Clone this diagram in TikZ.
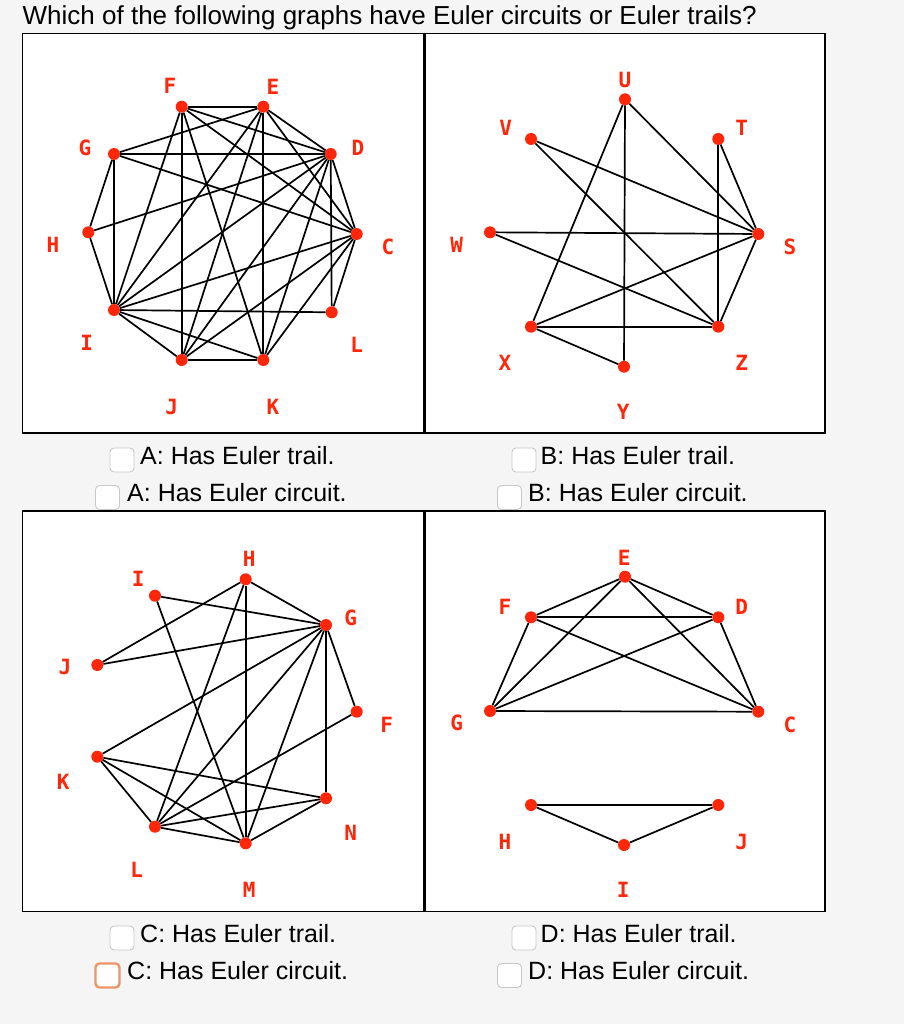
\documentclass[tikz,border=0pt]{standalone}
\usepackage{fontspec}
\setmainfont{Liberation Sans}
\newfontfamily\lblfont{DejaVu Sans Mono}
\definecolor{ptred}{RGB}{255,38,10}
\definecolor{pagebg}{RGB}{245,245,245}
\definecolor{boxgray}{RGB}{200,200,200}
\definecolor{focusorange}{RGB}{236,150,104}
\tikzset{
  vtx/.style={circle, fill=ptred, inner sep=0pt, minimum size=12pt},
  lbl/.style={text=ptred, font=\lblfont\bfseries\fontsize{21}{21}\selectfont, inner sep=0pt},
  gedge/.style={line width=1.7pt, black},
  panel/.style={draw=black, line width=1.8pt, fill=white},
  cbox/.style={draw=boxgray, fill=white, rounded corners=4pt, line width=0.9pt, minimum width=24pt, minimum height=24pt, inner sep=0pt},
  cboxfocus/.style={cbox, draw=focusorange, line width=2.4pt},
  opt/.style={anchor=base west, inner sep=0pt, font=\fontsize{25}{25}\selectfont},
}
\begin{document}
\begin{tikzpicture}[x=1pt, y=-1pt]
\useasboundingbox (0,0) rectangle (904,1024);
\fill[pagebg] (0,0) rectangle (904,1024);

\node[anchor=base west, inner sep=0pt, font=\fontsize{26}{26}\selectfont] (title) at (22.5,25) {Which of the following graphs have Euler circuits or Euler trails?};

% panels
\draw[panel] (22.5,33.5) rectangle (424,433);
\draw[panel] (425.5,33.5) rectangle (825,433);
\draw[panel] (22.5,511) rectangle (424,911.5);
\draw[panel] (425.5,511) rectangle (825,911.5);

% ---------- Panel A ----------
\node[vtx] (aF) at (181.7,106.7) {};
\node[vtx] (aE) at (263.3,106.7) {};
\node[vtx] (aG) at (114,154) {};
\node[vtx] (aD) at (330.7,154) {};
\node[vtx] (aH) at (88.3,232.3) {};
\node[vtx] (aC) at (356.7,234) {};
\node[vtx] (aI) at (114,310) {};
\node[vtx] (aL) at (331.7,312.3) {};
\node[vtx] (aJ) at (181.7,360) {};
\node[vtx] (aK) at (263.3,360) {};
\node[lbl] (aFl) at (170,86) {F};
\node[lbl] (aEl) at (273,86.7) {E};
\node[lbl] (aGl) at (85,148) {G};
\node[lbl] (aDl) at (358,148) {D};
\node[lbl] (aHl) at (53,245) {H};
\node[lbl] (aCl) at (388,247) {C};
\node[lbl] (aIl) at (86.7,343) {I};
\node[lbl] (aLl) at (356.7,345) {L};
\node[lbl] (aJl) at (171.7,406.7) {J};
\node[lbl] (aKl) at (273,406.7) {K};
\foreach \u/\v in {aF/aE,aJ/aK,aG/aD,aI/aL,aF/aJ,aE/aK,aG/aI,aD/aL,aG/aH,aH/aI,aD/aC,aC/aL,aG/aE,aG/aC,aH/aD,aF/aD,aF/aC,aF/aK,aF/aI,aE/aI,aE/aJ,aE/aC,aE/aD,aD/aI,aD/aJ,aD/aK,aC/aI,aC/aJ,aC/aK,aI/aJ,aI/aK}
  \draw[gedge] (\u) -- (\v);

% ---------- Panel B ----------
\node[vtx] (bU) at (625,99.3) {};
\node[vtx] (bV) at (531,139) {};
\node[vtx] (bT) at (718.3,139) {};
\node[vtx] (bW) at (490,232.3) {};
\node[vtx] (bS) at (758.3,234) {};
\node[vtx] (bX) at (531,326.7) {};
\node[vtx] (bZ) at (718.3,326.7) {};
\node[vtx] (bY) at (624,366.7) {};
\node[lbl] (bUl) at (625,80) {U};
\node[lbl] (bVl) at (505.7,128) {V};
\node[lbl] (bTl) at (741.7,128) {T};
\node[lbl] (bWl) at (456.7,245) {W};
\node[lbl] (bSl) at (790,246.7) {S};
\node[lbl] (bXl) at (505,363) {X};
\node[lbl] (bZl) at (741.7,363) {Z};
\node[lbl] (bYl) at (623.3,411.7) {Y};
\foreach \u/\v in {bU/bY,bU/bX,bU/bS,bV/bS,bV/bZ,bT/bS,bT/bZ,bW/bS,bW/bZ,bX/bS,bX/bZ,bX/bY,bZ/bS}
  \draw[gedge] (\u) -- (\v);

% ---------- Panel C ----------
\node[vtx] (cH) at (245.7,579.3) {};
\node[vtx] (cI) at (155,595.7) {};
\node[vtx] (cG) at (326,625) {};
\node[vtx] (cJ) at (97.3,665) {};
\node[vtx] (cF) at (356.7,711.7) {};
\node[vtx] (cK) at (97.3,756.7) {};
\node[vtx] (cN) at (326,798.3) {};
\node[vtx] (cL) at (155,826.7) {};
\node[vtx] (cM) at (245.7,843.3) {};
\node[lbl] (cHl) at (249.3,559.3) {H};
\node[lbl] (cIl) at (138.3,579.3) {I};
\node[lbl] (cGl) at (350.7,618.3) {G};
\node[lbl] (cJl) at (65,666.7) {J};
\node[lbl] (cFl) at (386.7,725) {F};
\node[lbl] (cKl) at (63.3,781.7) {K};
\node[lbl] (cNl) at (350.7,833.3) {N};
\node[lbl] (cLl) at (136.7,870) {L};
\node[lbl] (cMl) at (249.3,890) {M};
\foreach \u/\v in {cH/cJ,cH/cG,cH/cM,cH/cL,cI/cG,cI/cM,cJ/cG,cK/cG,cK/cN,cK/cM,cK/cL,cG/cF,cG/cN,cG/cM,cG/cL,cF/cL,cN/cL,cN/cM,cL/cM}
  \draw[gedge] (\u) -- (\v);

% ---------- Panel D ----------
\node[vtx] (dE) at (625,576.7) {};
\node[vtx] (dF) at (531,617.3) {};
\node[vtx] (dD) at (718.3,617.3) {};
\node[vtx] (dG) at (490,711) {};
\node[vtx] (dC) at (758.3,711.7) {};
\node[vtx] (dH) at (531,805) {};
\node[vtx] (dJ) at (718.3,805) {};
\node[vtx] (dI) at (624,845) {};
\node[lbl] (dEl) at (624.3,558.3) {E};
\node[lbl] (dFl) at (505,606.7) {F};
\node[lbl] (dDl) at (741.7,606.7) {D};
\node[lbl] (dGl) at (456.7,723.3) {G};
\node[lbl] (dCl) at (790,725) {C};
\node[lbl] (dHl) at (505,841.7) {H};
\node[lbl] (dJl) at (741.7,841.7) {J};
\node[lbl] (dIl) at (623.3,890) {I};
\foreach \u/\v in {dE/dF,dE/dD,dE/dG,dE/dC,dF/dD,dF/dG,dF/dC,dD/dG,dD/dC,dG/dC,dH/dJ,dH/dI,dI/dJ}
  \draw[gedge] (\u) -- (\v);

% ---------- Options ----------
\node[cbox] (cbAt) at (122,460) {};
\node[opt] (tAt) at (140,464) {A: Has Euler trail.};
\node[cbox] (cbAc) at (107.5,497.5) {};
\node[opt] (tAc) at (127,501.5) {A: Has Euler circuit.};
\node[cbox] (cbBt) at (524,460) {};
\node[opt] (tBt) at (540.5,464) {B: Has Euler trail.};
\node[cbox] (cbBc) at (509.5,497.5) {};
\node[opt] (tBc) at (528,501.5) {B: Has Euler circuit.};

\node[cbox] (cbCt) at (122,938) {};
\node[opt] (tCt) at (140,942) {C: Has Euler trail.};
\node[cboxfocus] (cbCc) at (107.5,975.5) {};
\node[opt] (tCc) at (127,979.5) {C: Has Euler circuit.};
\node[cbox] (cbDt) at (524,938) {};
\node[opt] (tDt) at (540.5,942) {D: Has Euler trail.};
\node[cbox] (cbDc) at (509.5,975.5) {};
\node[opt] (tDc) at (528,979.5) {D: Has Euler circuit.};
\end{tikzpicture}
\end{document}
